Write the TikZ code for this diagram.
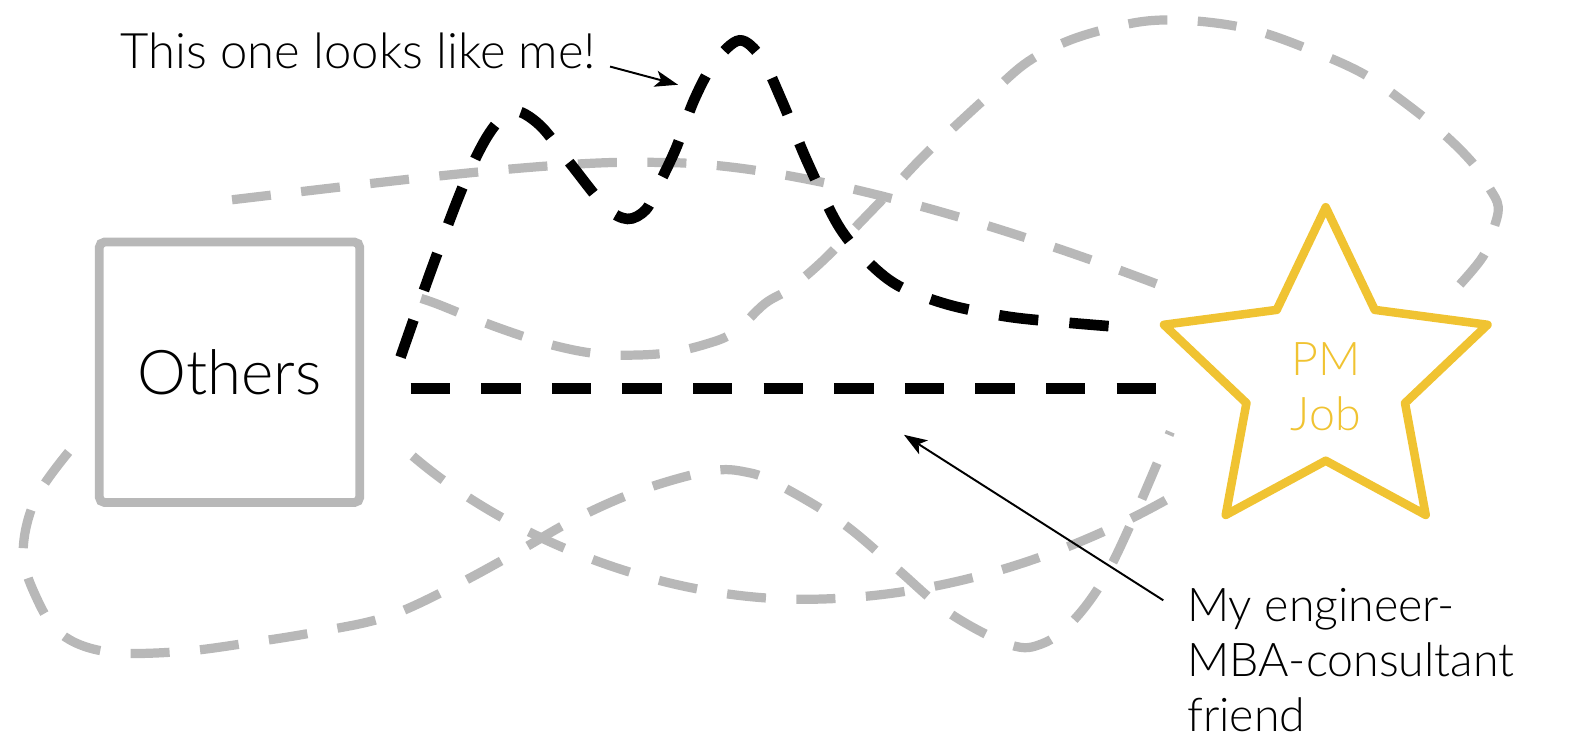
\documentclass[tikz,border=0pt]{standalone}
\usepackage{fontspec}
\setmainfont{Lato Light}
\usetikzlibrary{arrows.meta}
\usetikzlibrary{shapes.geometric}
\definecolor{pathgray}{RGB}{184,184,184}
\definecolor{staryellow}{RGB}{240,195,50}
\tikzset{graypath/.style = {draw=pathgray, line width=2.6pt, dash pattern=on 11pt off 8.6pt}}
\tikzset{blackpath/.style = {draw=black, line width=3pt, dash pattern=on 11.1pt off 8.8pt}}
\tikzset{pointer/.style = {-{Stealth[length=6.5pt,width=4.6pt,inset=1.6pt]}, line width=0.55pt}}
\tikzset{note/.style = {inner sep=0, font=\fontsize{13.1}{15.5}\selectfont, align=left}}
\tikzset{otherbox/.style = {draw=pathgray, line width=2.5pt, minimum width=2.58cm, minimum height=2.58cm,
                            rounded corners=1.5pt, inner sep=0, font=\fontsize{17.4}{20}\selectfont}}
\tikzset{jobstar/.style = {star, star points=5, star point ratio=2.04, minimum size=3.37cm, inner sep=0,
                           draw=staryellow, line width=2.4pt, line join=round}}

\begin{document}
\begin{tikzpicture}[x=0.01cm, y=-0.01cm]
    \useasboundingbox (0,0) rectangle (1568,743);

    \node[otherbox] (others) at (227.5,369) {Others};
    \node[jobstar] (pm) at (1314,374) {};
    \node[note, align=center, text=staryellow] (pmtext) at (1314,383) {PM\\Job};

    % gray paths
    \draw[graypath] (230,198) .. controls (400,178) and (560,158) .. (650,161)
                    .. controls (790,160) and (1000,225) .. (1161,287);
    \draw[graypath] (409,452) .. controls (500,530) and (650,595) .. (800,594)
                    .. controls (950,593) and (1080,540) .. (1169,488);
    \draw[graypath] plot[smooth, tension=0.6] coordinates {(68,448) (35,495) (23,547) (35,590) (60,628)
        (106,646) (177,646) (248,637) (316,626) (384,611) (450,581) (511,548) (571,514) (635,486)
        (703,467) (740,468) (771,480) (833,517) (887,562) (940,607) (1001,639) (1033,638) (1063,616)
        (1094,574) (1125,510) (1160,428)};
    \draw[graypath] plot[smooth, tension=0.6] coordinates {(1447,282) (1470,254) (1480,228) (1485,205)
        (1476,186) (1460,162) (1430,132) (1390,100) (1351,73) (1300,50) (1247,31) (1198,22) (1148,20)
        (1108,26) (1060,40) (1019,61) (984,91) (950,122) (915,155) (882,190) (855,218) (816,258)
        (783,286) (758,301) (728,329) (700,341) (660,350) (615,352) (580,349) (540,340) (500,327)
        (460,312) (427,299) (389,287)};

    % black paths
    \coordinate (s1) at (407,385);
    \coordinate (e1) at (1147,385);
    \draw[blackpath] (s1) -- (e1);
    \draw[blackpath] plot[smooth, tension=0.55] coordinates {(397,354) (428,266) (460,182) (485,132)
        (508,110) (535,124) (566,163) (600,205) (622,217) (640,208) (652,185) (670,147) (688,99)
        (708,62) (733,40) (755,58) (775,100) (800,160) (830,222) (857,256) (890,283) (940,302)
        (1000,314) (1060,320) (1121,325)};

    \node[note, anchor=base west, font=\fontsize{13.8}{16}\selectfont] (melabel) at (119,68) {This one looks like me!};
    \node[note, anchor=north west] (friend) at (1176,582) {My engineer-\\MBA-consultant\\friend};

    \coordinate (metip) at (672,84);
    \coordinate (friendtip) at (896,431);
    \draw[pointer] ([shift={(13,-2)}]melabel.base east) -- (metip);
    \draw[pointer] ([shift={(-23,13)}]friend.north west) -- (friendtip);
\end{tikzpicture}
\end{document}
